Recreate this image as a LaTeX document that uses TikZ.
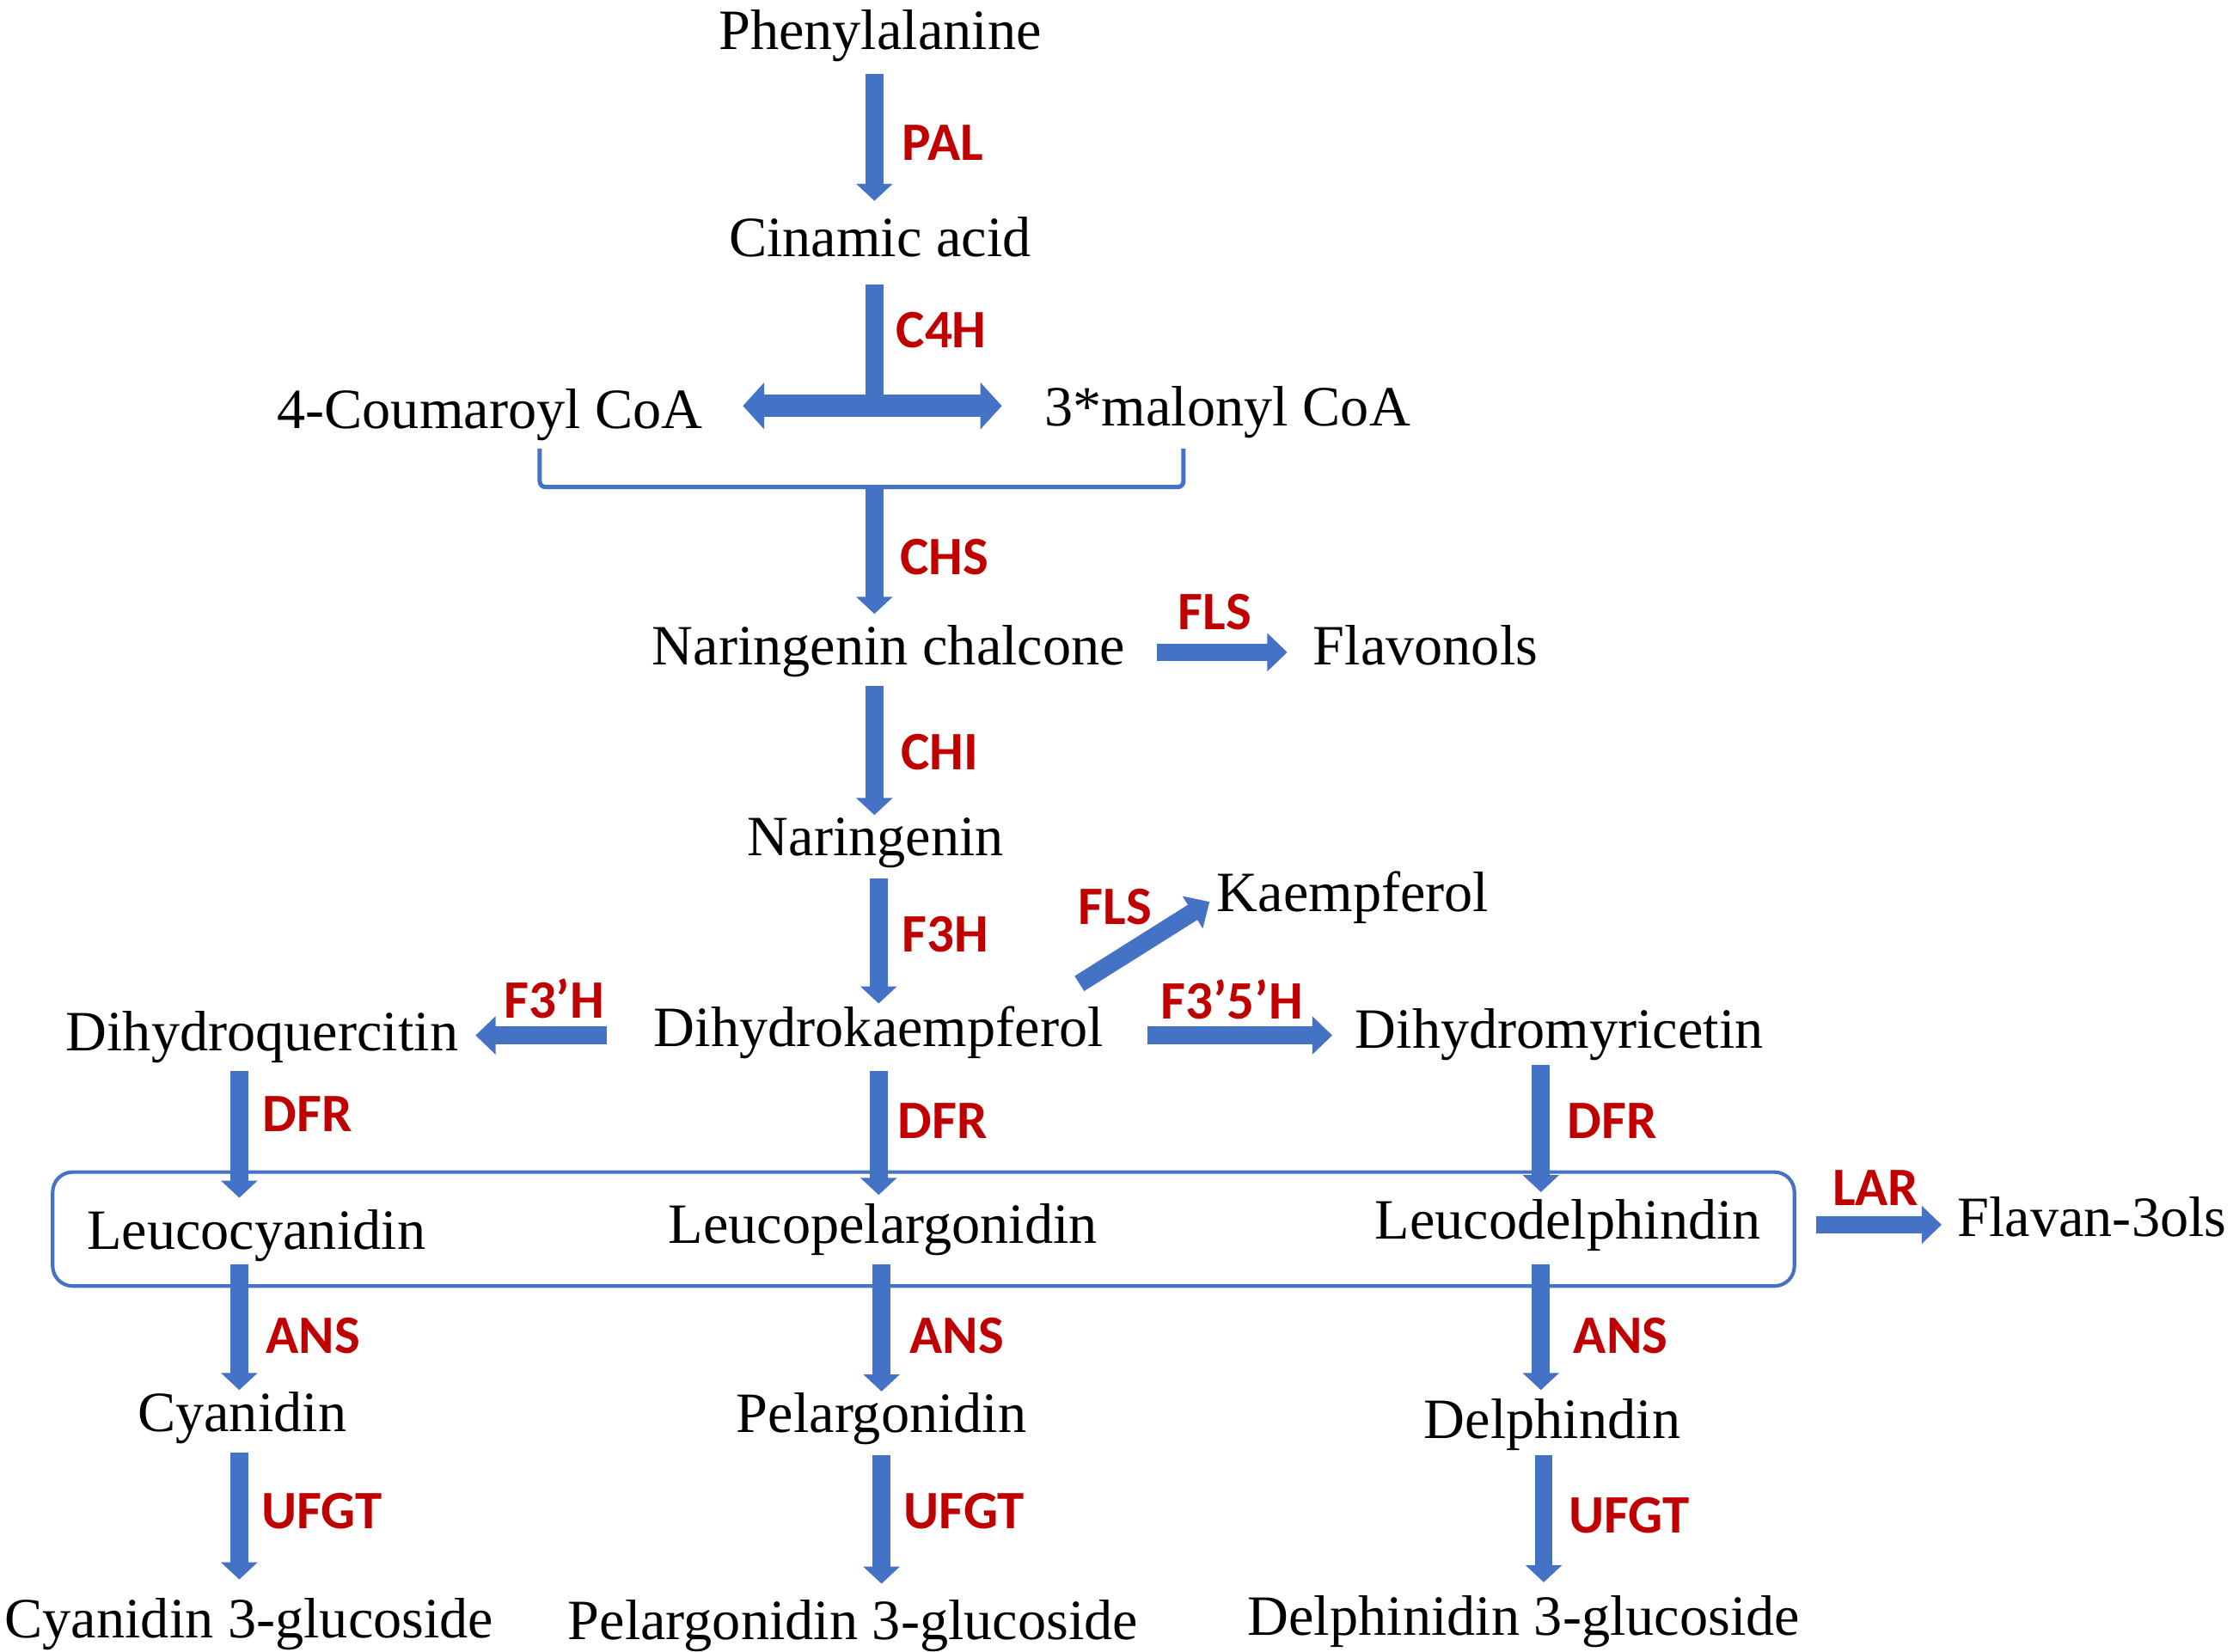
\documentclass[tikz,border=0pt]{standalone}
\usepackage{fontspec}
\setmainfont{Liberation Serif}
\newfontfamily\labfont{Carlito}
\usetikzlibrary{arrows.meta,calc}
\definecolor{pblue}{HTML}{4472C4}
\definecolor{pred}{HTML}{C00000}
\begin{document}
\begin{tikzpicture}[x=1pt,y=-1pt,
  cmp/.style={inner sep=0pt, anchor=base, font=\fontsize{40}{48}\selectfont},
  enz/.style={inner sep=0pt, anchor=center, text=pred, font=\labfont\bfseries\fontsize{38}{44}\selectfont},
  varrow/.style={pblue, line width=12.5pt, -{Triangle[width=25pt,length=12pt]}},
  harrow/.style={pblue, line width=12.5pt, -{Triangle[width=26pt,length=14pt]}},
  darrow/.style={pblue, line width=16pt, {Triangle[width=32pt,length=15pt]}-{Triangle[width=32pt,length=15pt]}},
  stem/.style={pblue, line width=12.5pt},
  bracket/.style={pblue, line width=3pt, rounded corners=4pt},
  pbox/.style={draw=pblue, line width=2.5pt, rounded corners=14pt, inner sep=0pt}
]
\useasboundingbox[fill=white] (0,0) rectangle (1568,1160);

% columns and rows
\coordinate (cm1) at (614,0);
\coordinate (cm2) at (617,0);
\coordinate (cm3) at (619,0);
\coordinate (cl) at (168,0);
\coordinate (cr1) at (1082,0);
\coordinate (cr2) at (1084,0);
\coordinate (rF) at (0,458);
\coordinate (rH) at (0,727);
\coordinate (rL) at (0,860);
\coordinate (split) at (614,285);
\coordinate (brL) at (379,315);
\coordinate (brR) at (831,315);
\coordinate (brM) at (614,342);

% compounds
\node[cmp] (phe) at (618,35) {Phenylalanine};
\node[cmp] (cin) at (618,180) {Cinamic acid};
\node[cmp] (cou) at (344,301) {4-Coumaroyl CoA};
\node[cmp] (mal) at (862,299) {3*malonyl CoA};
\node[cmp] (nch) at (624,467) {Naringenin chalcone};
\node[cmp] (flav) at (1001,467) {Flavonols};
\node[cmp] (nar) at (615,601) {Naringenin};
\node[cmp] (dhk) at (617,735) {Dihydrokaempferol};
\node[cmp] (kae) at (950,640) {Kaempferol};
\node[cmp] (dhm) at (1095,736) {Dihydromyricetin};
\node[cmp] (dhq) at (184,738) {Dihydroquercitin};
\node[pbox, minimum width=1223pt, minimum height=80pt] (box) at (648.5,863) {};
\node[cmp] (lcy) at (180,877) {Leucocyanidin};
\node[cmp] (lpe) at (620,873) {Leucopelargonidin};
\node[cmp] (lde) at (1101,870) {Leucodelphindin};
\node[cmp] (f3o) at (1469,868) {Flavan-3ols};
\node[cmp] (cya) at (170,1005) {Cyanidin};
\node[cmp] (pel) at (619,1006) {Pelargonidin};
\node[cmp] (del) at (1090,1010) {Delphindin};
\node[cmp] (cyg) at (175,1150) {Cyanidin 3-glucoside};
\node[cmp] (peg) at (599,1151) {Pelargonidin 3-glucoside};
\node[cmp] (deg) at (1070,1148) {Delphinidin 3-glucoside};

% enzymes
\node[enz] (ePAL) at (662,100) {PAL};
\node[enz] (eC4H) at (661,232) {C4H};
\node[enz] (eCHS) at (663,391) {CHS};
\node[enz] (eFLSa) at (853,430) {FLS};
\node[enz] (eCHI) at (660,528) {CHI};
\node[enz] (eF3H) at (664,656) {F3H};
\node[enz] (eFLSb) at (783,637) {FLS};
\node[enz] (eF3pH) at (389,701) {F3’H};
\node[enz] (eF35H) at (865,702) {F3’5’H};
\node[enz] (eDFRa) at (216,782) {DFR};
\node[enz] (eDFRb) at (662,787) {DFR};
\node[enz] (eDFRc) at (1132,787) {DFR};
\node[enz] (eLAR) at (1317,834) {LAR};
\node[enz] (eANSa) at (220,938) {ANS};
\node[enz] (eANSb) at (672,938) {ANS};
\node[enz] (eANSc) at (1138,938) {ANS};
\node[enz] (eUFa) at (226,1061) {UFGT};
\node[enz] (eUFb) at (677,1061) {UFGT};
\node[enz] (eUFc) at (1144,1064) {UFGT};

% connectors
\draw[varrow, shorten <=8pt, shorten >=11pt] (phe.south -| cm1) -- (cin.north -| cm1);
\draw[stem, shorten <=19pt] (cin.south -| split) -- (split);
\draw[darrow, shorten <=28pt, shorten >=30pt] (split -| cou.east) -- (split -| mal.west);
\draw[bracket] (brL) |- (brM) -| (brR);
\draw[varrow, shorten >=8pt] (brM) -- (nch.north -| brM);
\draw[harrow, shorten <=22pt, shorten >=18pt] (nch.east |- rF) -- (flav.west |- rF);
\draw[varrow, shorten <=6pt, shorten >=2pt] (nch.south -| cm1) -- (nar.north -| cm1);
\draw[varrow, shorten <=7pt, shorten >=2pt] (nar.south -| cm2) -- (dhk.north -| cm2);
\draw[harrow] ($(dhk.north east)+(-17,-16)$) -- ($(kae.west)+(-5,3)$);
\draw[harrow, shorten <=31pt, shorten >=16pt] (dhk.east |- rH) -- (dhm.west |- rH);
\draw[harrow, shorten <=33pt, shorten >=12pt] (dhk.west |- rH) -- (dhq.east |- rH);
\draw[varrow, shorten <=5pt, shorten >=8pt] (dhq.south -| cl) -- (lcy.north -| cl);
\draw[varrow, shorten <=8pt, shorten >=6pt] (dhk.south -| cm2) -- (lpe.north -| cm2);
\draw[varrow, shorten <=3pt, shorten >=5pt] (dhm.south -| cr1) -- (lde.north -| cr1);
\draw[harrow, shorten <=14pt, shorten >=11pt] (box.east |- rL) -- (f3o.west |- rL);
\draw[varrow, shorten <=2pt, shorten >=1pt] (lcy.south -| cl) -- (cya.north -| cl);
\draw[varrow, shorten <=6pt, shorten >=1pt] (lpe.south -| cm3) -- (pel.north -| cm3);
\draw[varrow, shorten <=9pt, shorten >=6pt] (lde.south -| cr1) -- (del.north -| cr1);
\draw[varrow, shorten <=6pt, shorten >=13pt] (cya.south -| cl) -- (cyg.north -| cl);
\draw[varrow, shorten <=7pt, shorten >=11pt] (pel.south -| cm3) -- (peg.north -| cm3);
\draw[varrow, shorten <=3pt, shorten >=9pt] (del.south -| cr2) -- (deg.north -| cr2);
\end{tikzpicture}
\end{document}
